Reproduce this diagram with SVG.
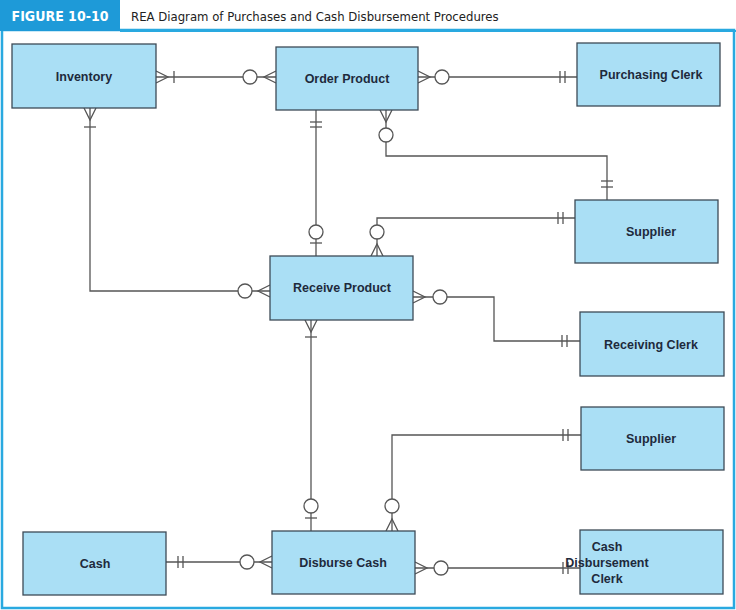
<svg xmlns="http://www.w3.org/2000/svg" width="736" height="610" viewBox="0 0 736 610">
<style>
.box{fill:#aadff5;stroke:#3d4b56;stroke-width:1.3}
.t{font-family:"Liberation Sans",Arial,sans-serif;font-weight:bold;font-size:12.5px;fill:#1e2a3c;text-anchor:middle}
.c line,.c polyline{stroke:#555;stroke-width:1.3;fill:none}
.c circle{fill:#fff;stroke:#555;stroke-width:1.3}
</style>
<rect x="0" y="0" width="736" height="610" fill="#fff"/>
<rect x="2" y="30" width="732" height="578" fill="none" stroke="#29a9e0" stroke-width="2.5"/>
<rect x="0" y="0" width="120" height="31" fill="#1e9ad8"/>
<line x1="120" y1="31" x2="736" y2="31" stroke="#29a9e0" stroke-width="2"/>
<text x="60" y="21" font-family="'Liberation Sans Narrow','DejaVu Sans Condensed',sans-serif" font-weight="bold" font-size="14" fill="#fff" text-anchor="middle">FIGURE 10-10</text>
<text x="131" y="21" font-family="'DejaVu Sans Condensed','Liberation Sans Narrow',sans-serif" font-size="13" fill="#222">REA Diagram of Purchases and Cash Disbursement Procedures</text>
<g class="c" id="connectors">
<!-- Inventory - Order Product -->
<line x1="156" y1="77" x2="276" y2="77"/>
<polyline points="156,71 168,77 156,83"/><line x1="174" y1="71" x2="174" y2="83"/>
<circle cx="250" cy="77" r="7"/><polyline points="276,71 264,77 276,83"/>
<!-- Order Product - Purchasing Clerk -->
<line x1="418" y1="77" x2="577" y2="77"/>
<polyline points="418,71 430,77 418,83"/><circle cx="442" cy="77" r="7"/>
<line x1="560" y1="71" x2="560" y2="83"/><line x1="565" y1="71" x2="565" y2="83"/>
<!-- Order Product - Receive Product -->
<line x1="316" y1="110" x2="316" y2="256"/>
<line x1="310" y1="122" x2="322" y2="122"/><line x1="310" y1="127" x2="322" y2="127"/>
<circle cx="316" cy="232" r="7"/><line x1="310" y1="243" x2="322" y2="243"/>
<!-- Order Product - Supplier -->
<polyline points="386,110 386,156 607,156 607,200"/>
<polyline points="380,110 386,122 392,110"/><circle cx="386" cy="135" r="7"/>
<line x1="601" y1="181" x2="613" y2="181"/><line x1="601" y1="187" x2="613" y2="187"/>
<!-- Supplier - Receive Product -->
<polyline points="575,218 377,218 377,256"/>
<line x1="558" y1="212" x2="558" y2="224"/><line x1="563" y1="212" x2="563" y2="224"/>
<circle cx="377" cy="232" r="7"/><polyline points="371,256 377,244 383,256"/>
<!-- Inventory - Receive Product -->
<polyline points="90,108 90,291 270,291"/>
<polyline points="84,108 90,120 96,108"/><line x1="84" y1="127" x2="96" y2="127"/>
<circle cx="245" cy="291" r="7"/><polyline points="270,285 258,291 270,297"/>
<!-- Receive Product - Receiving Clerk -->
<polyline points="413,297 494,297 494,341 580,341"/>
<polyline points="413,291 425,297 413,303"/><circle cx="440" cy="297" r="7"/>
<line x1="562" y1="335" x2="562" y2="347"/><line x1="567" y1="335" x2="567" y2="347"/>
<!-- Receive Product - Disburse Cash -->
<line x1="311" y1="320" x2="311" y2="531"/>
<polyline points="305,320 311,332 317,320"/><line x1="305" y1="337" x2="317" y2="337"/>
<circle cx="311" cy="506" r="7"/><line x1="305" y1="518" x2="317" y2="518"/>
<!-- Supplier2 - Disburse Cash -->
<polyline points="581,435 392,435 392,531"/>
<line x1="563" y1="429" x2="563" y2="441"/><line x1="568" y1="429" x2="568" y2="441"/>
<circle cx="392" cy="506" r="7"/><polyline points="386,531 392,519 398,531"/>
<!-- Cash - Disburse Cash -->
<line x1="166" y1="562" x2="272" y2="562"/>
<line x1="178" y1="556" x2="178" y2="568"/><line x1="183" y1="556" x2="183" y2="568"/>
<circle cx="247" cy="562" r="7"/><polyline points="272,556 260,562 272,568"/>
<!-- Disburse Cash - Cash Disbursement Clerk -->
<line x1="415" y1="568" x2="580" y2="568"/>
<polyline points="415,562 427,568 415,574"/><circle cx="441" cy="568" r="7"/>
<line x1="563" y1="562" x2="563" y2="574"/><line x1="568" y1="562" x2="568" y2="574"/>
</g>
<g id="inventory"><rect class="box" x="12" y="44" width="144" height="64"/><text class="t" x="84" y="81">Inventory</text></g>
<g id="order-product"><rect class="box" x="276" y="47" width="142" height="63"/><text class="t" x="347" y="83">Order Product</text></g>
<g id="purchasing-clerk"><rect class="box" x="577" y="43" width="143" height="63"/><text class="t" x="651" y="79">Purchasing Clerk</text></g>
<g id="supplier1"><rect class="box" x="575" y="200" width="143" height="63"/><text class="t" x="651" y="236">Supplier</text></g>
<g id="receive-product"><rect class="box" x="270" y="256" width="143" height="64"/><text class="t" x="342" y="292">Receive Product</text></g>
<g id="receiving-clerk"><rect class="box" x="580" y="312" width="144" height="64"/><text class="t" x="651" y="349">Receiving Clerk</text></g>
<g id="supplier2"><rect class="box" x="581" y="407" width="143" height="63"/><text class="t" x="651" y="443">Supplier</text></g>
<g id="cash"><rect class="box" x="23" y="532" width="143" height="63"/><text class="t" x="95" y="568">Cash</text></g>
<g id="disburse-cash"><rect class="box" x="272" y="531" width="143" height="63"/><text class="t" x="343" y="567">Disburse Cash</text></g>
<g id="cash-disbursement-clerk"><rect class="box" x="580" y="530" width="143" height="64"/><text class="t" x="607" y="551" text-anchor="start">Cash</text><text class="t" x="607" y="567" text-anchor="start">Disbursement</text><text class="t" x="607" y="583" text-anchor="start">Clerk</text></g>
</svg>
